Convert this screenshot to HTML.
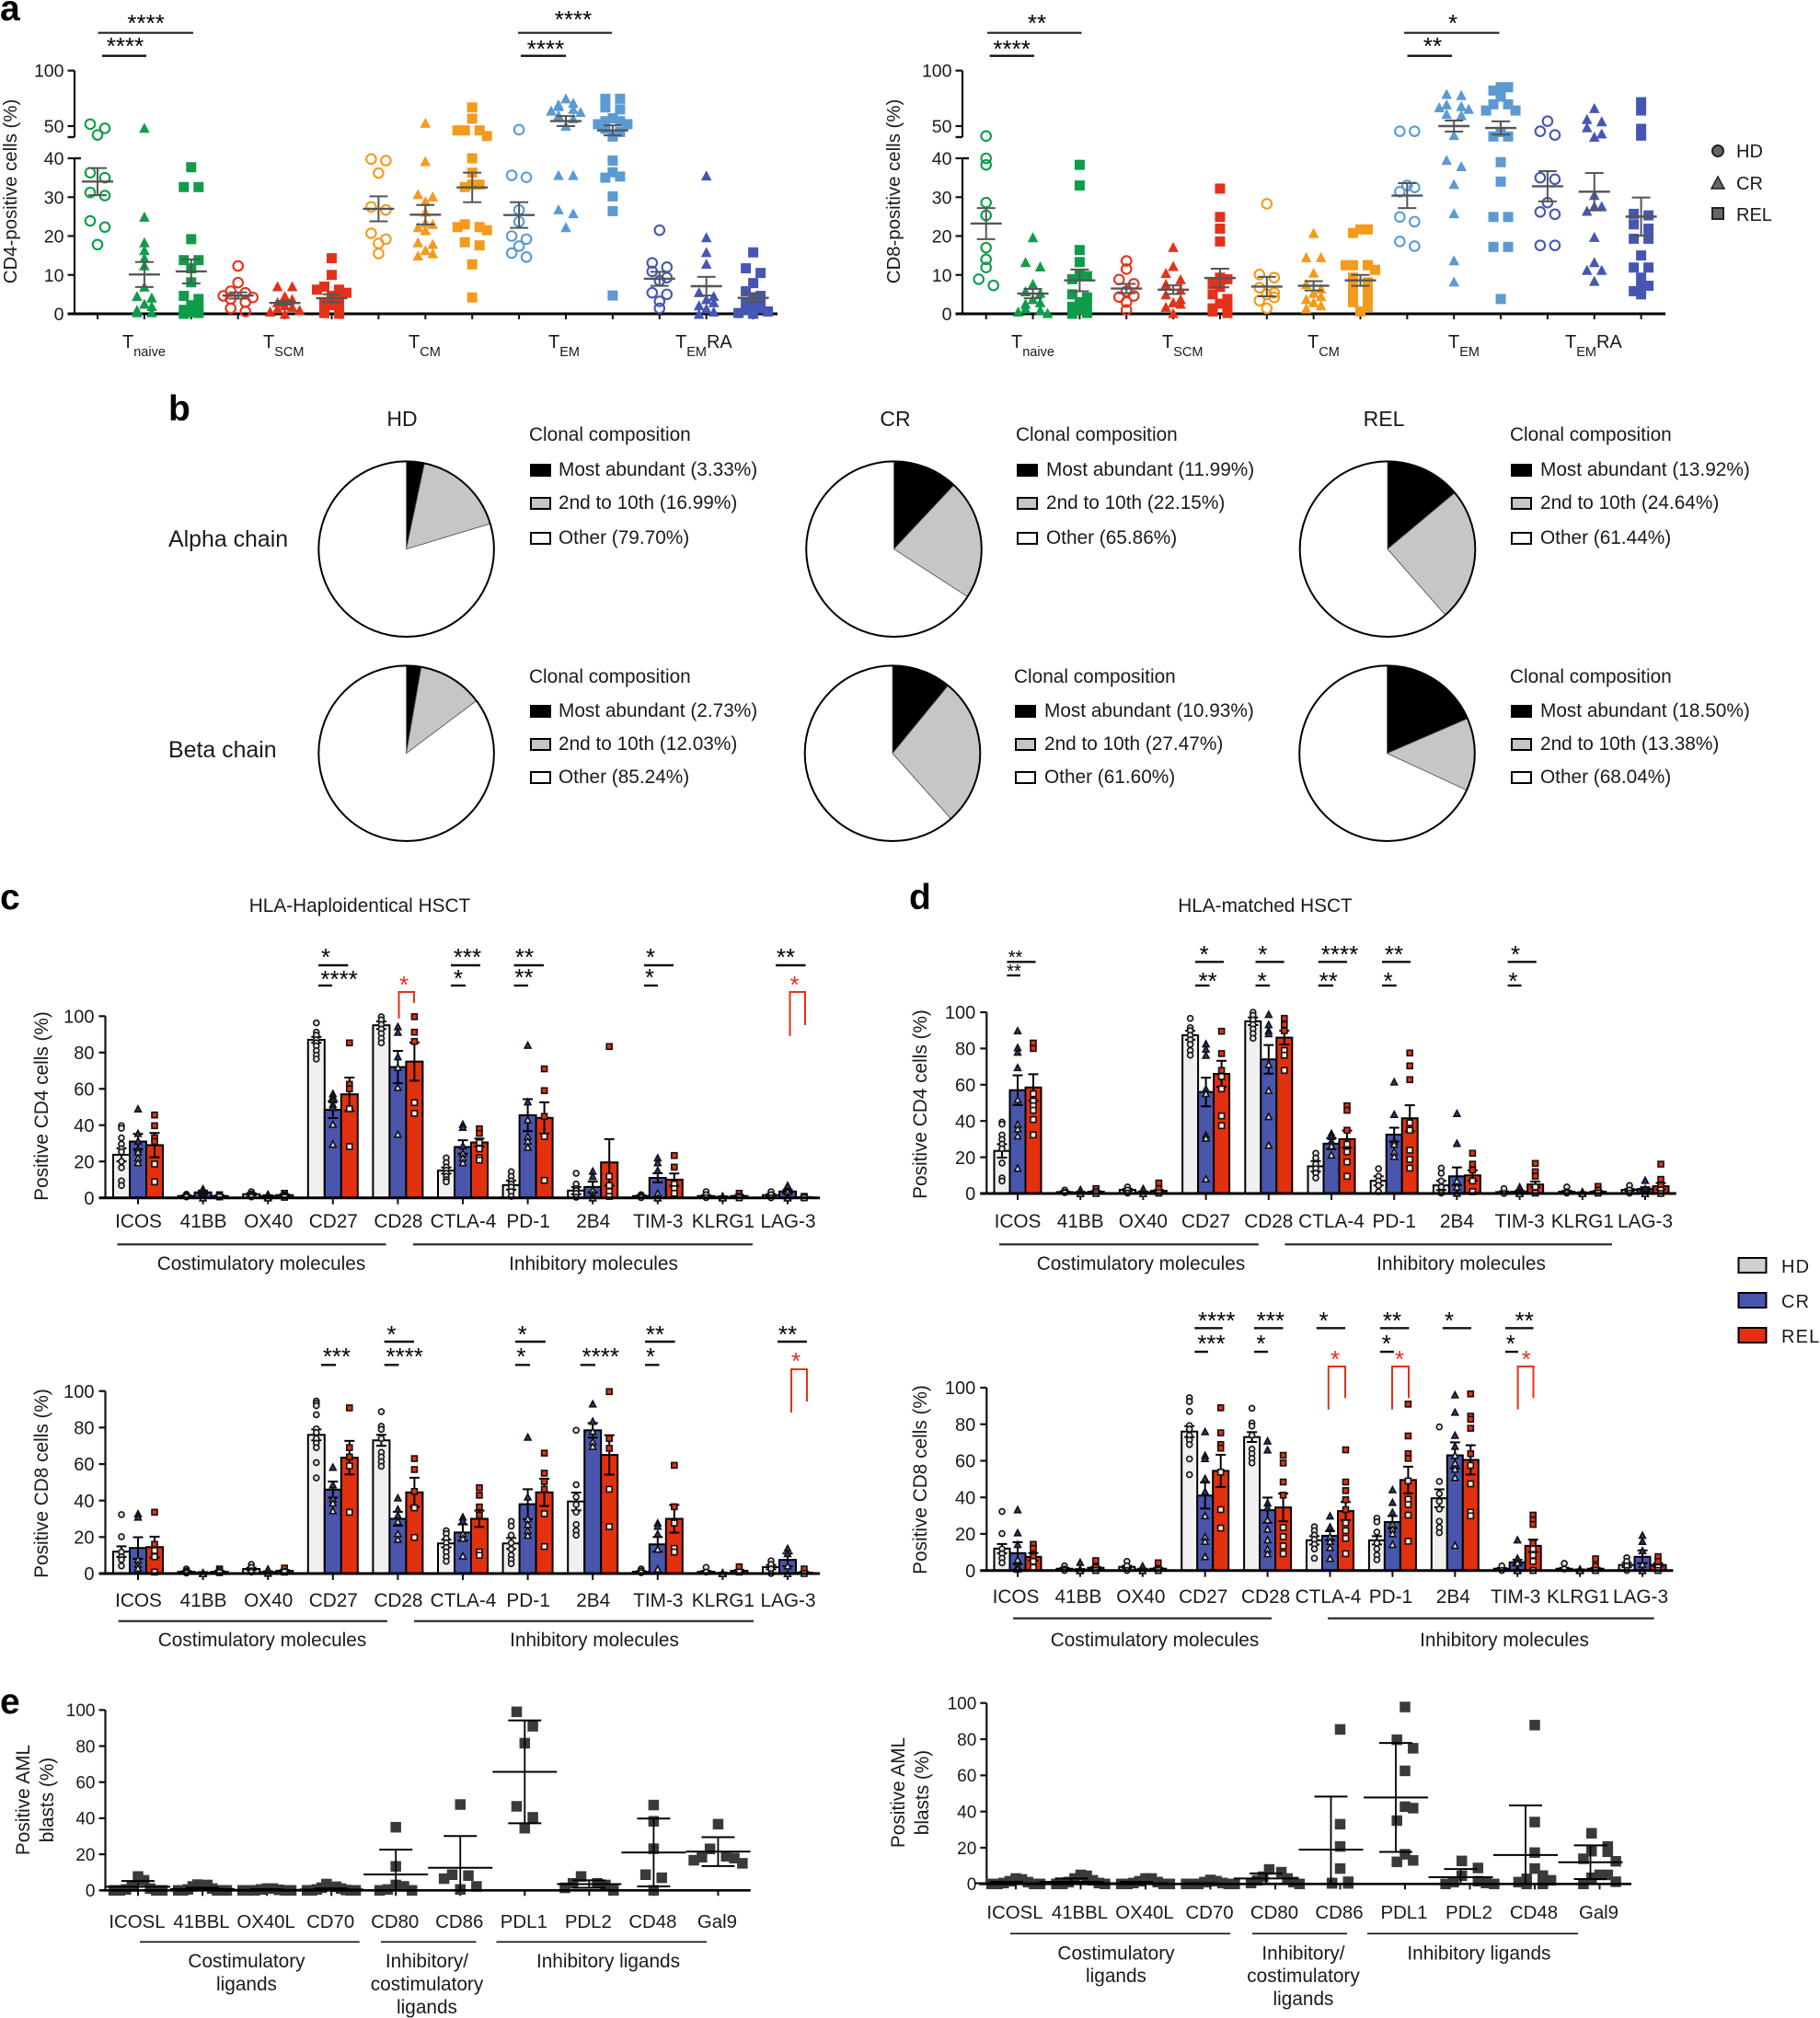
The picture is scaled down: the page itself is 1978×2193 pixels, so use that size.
<!DOCTYPE html>
<html lang="en">
<head>
<meta charset="utf-8">
<title>T cell subsets, clonal composition and checkpoint expression</title>
<style>
html,body{margin:0;padding:0;background:#fff;}
#figure{display:block;width:1978px;height:2193px;font-family:"Liberation Sans",sans-serif;fill:#1a1a1a;}
.letter{font-size:39px;font-weight:bold;fill:#000;}
.t20{font-size:20.8px;}
.t24{font-size:23px;}
.chain{font-size:24.9px;}
.star{font-size:26px;text-anchor:middle;fill:#000;transform:translateY(-2px);}
.star-s{font-size:20px;text-anchor:middle;fill:#000;transform:translateY(-1px);}
.star-r{font-size:26px;text-anchor:middle;fill:#e3321b;transform:translateY(-2px);}
.m{text-anchor:middle;}
.sig{stroke:#111;stroke-width:2.4;}
.bracket{stroke:#e3321b;stroke-width:2;fill:none;}
.glow{stroke:#222;stroke-width:2.2;}
.box{stroke:#000;stroke-width:2;}
</style>
</head>
<body>
<svg id="figure" xmlns="http://www.w3.org/2000/svg" width="1978" height="2193" viewBox="0 0 1978 2193">
<rect width="1978" height="2193" fill="#fff"/>

<text class="letter" x="0" y="22">a</text>
<text class="letter" x="183" y="457">b</text>
<text class="letter" x="0" y="988">c</text>
<text class="letter" x="988" y="988">d</text>
<text class="letter" x="0" y="1862">e</text>

<!-- panel a static -->
<g>
<text class="t20" transform="translate(18,208) rotate(-90)" text-anchor="middle" style="font-size:20.4px">CD4-positive cells (%)</text>
<text class="t20" transform="translate(978,208) rotate(-90)" text-anchor="middle" style="font-size:20.4px">CD8-positive cells (%)</text>
<text x="133" y="378" style="font-size:20px">T<tspan dy="9" style="font-size:14.5px">naive</tspan></text>
<text x="286" y="378" style="font-size:20px">T<tspan dy="9" style="font-size:14.5px">SCM</tspan></text>
<text x="444" y="378" style="font-size:20px">T<tspan dy="9" style="font-size:14.5px">CM</tspan></text>
<text x="596" y="378" style="font-size:20px">T<tspan dy="9" style="font-size:14.5px">EM</tspan></text>
<text x="734" y="378" style="font-size:20px">T<tspan dy="9" style="font-size:14.5px">EM</tspan><tspan dy="-9">RA</tspan></text>
<text x="1099" y="378" style="font-size:20px">T<tspan dy="9" style="font-size:14.5px">naive</tspan></text>
<text x="1263" y="378" style="font-size:20px">T<tspan dy="9" style="font-size:14.5px">SCM</tspan></text>
<text x="1421" y="378" style="font-size:20px">T<tspan dy="9" style="font-size:14.5px">CM</tspan></text>
<text x="1574" y="378" style="font-size:20px">T<tspan dy="9" style="font-size:14.5px">EM</tspan></text>
<text x="1701" y="378" style="font-size:20px">T<tspan dy="9" style="font-size:14.5px">EM</tspan><tspan dy="-9">RA</tspan></text>
</g>
<g>
<line class="glow" x1="106.5" x2="210" y1="35.7" y2="35.7"/>
<line class="sig" x1="111" x2="159" y1="60.7" y2="60.7"/>
<text class="star" x="158.6" y="36">****</text>
<text class="star" x="136" y="61">****</text>
<line class="glow" x1="563" x2="665" y1="35.7" y2="35.7"/>
<line class="sig" x1="566" x2="615" y1="60.7" y2="60.7"/>
<text class="star" x="623" y="32">****</text>
<text class="star" x="593" y="64">****</text>
<line class="glow" x1="1073" x2="1175.6" y1="35.7" y2="35.7"/>
<line class="sig" x1="1075.6" x2="1124" y1="60.7" y2="60.7"/>
<text class="star" x="1127" y="36">**</text>
<text class="star" x="1099.6" y="64">****</text>
<line class="glow" x1="1526" x2="1629.5" y1="35.7" y2="35.7"/>
<line class="sig" x1="1529.5" x2="1578" y1="60.7" y2="60.7"/>
<text class="star" x="1579" y="36">*</text>
<text class="star" x="1557" y="61">**</text>
</g>
<g>
<circle cx="1867" cy="164" r="6" fill="#666" stroke="#222" stroke-width="2"/>
<text x="1887" y="171" style="font-size:20px">HD</text>
<path d="M1867 192l7 13h-14z" fill="#666" stroke="#222" stroke-width="1.5"/>
<text x="1887" y="206" style="font-size:20px">CR</text>
<rect x="1861" y="226" width="12" height="12" fill="#666" stroke="#222" stroke-width="2"/>
<text x="1887" y="240" style="font-size:20px">REL</text>
</g>

<!-- panel b static -->
<g>
<text class="t24 m" x="437" y="463">HD</text>
<text class="t24 m" x="973" y="463">CR</text>
<text class="t24 m" x="1504" y="463">REL</text>
<text class="chain" x="183" y="594">Alpha chain</text>
<text class="chain" x="183" y="823">Beta chain</text>
</g>
<g>
<text class="t20" x="575" y="479">Clonal composition</text>
<rect class="box" x="577" y="505" width="21" height="12" fill="#000"/><text class="t20" x="607" y="517">Most abundant (3.33%)</text>
<rect class="box" x="577" y="541" width="21" height="12" fill="#c6c6c6"/><text class="t20" x="607" y="553">2nd to 10th (16.99%)</text>
<rect class="box" x="577" y="579" width="21" height="12" fill="#fff"/><text class="t20" x="607" y="591">Other (79.70%)</text>
</g>
<g>
<text class="t20" x="1104" y="479">Clonal composition</text>
<rect class="box" x="1106" y="505" width="21" height="12" fill="#000"/><text class="t20" x="1137" y="517">Most abundant (11.99%)</text>
<rect class="box" x="1106" y="541" width="21" height="12" fill="#c6c6c6"/><text class="t20" x="1137" y="553">2nd to 10th (22.15%)</text>
<rect class="box" x="1106" y="579" width="21" height="12" fill="#fff"/><text class="t20" x="1137" y="591">Other (65.86%)</text>
</g>
<g>
<text class="t20" x="1641" y="479">Clonal composition</text>
<rect class="box" x="1643" y="505" width="21" height="12" fill="#000"/><text class="t20" x="1674" y="517">Most abundant (13.92%)</text>
<rect class="box" x="1643" y="541" width="21" height="12" fill="#c6c6c6"/><text class="t20" x="1674" y="553">2nd to 10th (24.64%)</text>
<rect class="box" x="1643" y="579" width="21" height="12" fill="#fff"/><text class="t20" x="1674" y="591">Other (61.44%)</text>
</g>
<g>
<text class="t20" x="575" y="742">Clonal composition</text>
<rect class="box" x="577" y="767" width="21" height="12" fill="#000"/><text class="t20" x="607" y="779">Most abundant (2.73%)</text>
<rect class="box" x="577" y="803" width="21" height="12" fill="#c6c6c6"/><text class="t20" x="607" y="815">2nd to 10th (12.03%)</text>
<rect class="box" x="577" y="839" width="21" height="12" fill="#fff"/><text class="t20" x="607" y="851">Other (85.24%)</text>
</g>
<g>
<text class="t20" x="1102" y="742">Clonal composition</text>
<rect class="box" x="1104" y="767" width="21" height="12" fill="#000"/><text class="t20" x="1135" y="779">Most abundant (10.93%)</text>
<rect class="box" x="1104" y="803" width="21" height="12" fill="#c6c6c6"/><text class="t20" x="1135" y="815">2nd to 10th (27.47%)</text>
<rect class="box" x="1104" y="839" width="21" height="12" fill="#fff"/><text class="t20" x="1135" y="851">Other (61.60%)</text>
</g>
<g>
<text class="t20" x="1641" y="742">Clonal composition</text>
<rect class="box" x="1643" y="767" width="21" height="12" fill="#000"/><text class="t20" x="1674" y="779">Most abundant (18.50%)</text>
<rect class="box" x="1643" y="803" width="21" height="12" fill="#c6c6c6"/><text class="t20" x="1674" y="815">2nd to 10th (13.38%)</text>
<rect class="box" x="1643" y="839" width="21" height="12" fill="#fff"/><text class="t20" x="1674" y="851">Other (68.04%)</text>
</g>

<!-- panels c/d static -->
<text class="t20 m" x="391" y="991">HLA-Haploidentical HSCT</text>
<text class="t20 m" x="1375" y="991">HLA-matched HSCT</text>
<text class="t20 m" transform="translate(52,1202) rotate(-90)" style="font-size:20.8px">Positive CD4 cells (%)</text>
<text class="t20 m" transform="translate(52,1612) rotate(-90)" style="font-size:20.8px">Positive CD8 cells (%)</text>
<text class="t20 m" transform="translate(1007,1200) rotate(-90)" style="font-size:20.8px">Positive CD4 cells (%)</text>
<text class="t20 m" transform="translate(1007,1608) rotate(-90)" style="font-size:20.8px">Positive CD8 cells (%)</text>

<g>
<line class="glow" x1="127.4" x2="419.5" y1="1352.3" y2="1352.3"/>
<line class="glow" x1="449" x2="818" y1="1352.3" y2="1352.3"/>
<text class="t20 m" x="284" y="1380">Costimulatory molecules</text>
<text class="t20 m" x="645" y="1380">Inhibitory molecules</text>
<line class="glow" x1="128.6" x2="421" y1="1761.7" y2="1761.7"/>
<line class="glow" x1="450" x2="819" y1="1761.7" y2="1761.7"/>
<text class="t20 m" x="285" y="1789">Costimulatory molecules</text>
<text class="t20 m" x="646" y="1789">Inhibitory molecules</text>
<line class="glow" x1="1086" x2="1367.8" y1="1352.3" y2="1352.3"/>
<line class="glow" x1="1396.4" x2="1752" y1="1352.3" y2="1352.3"/>
<text class="t20 m" x="1240" y="1380">Costimulatory molecules</text>
<text class="t20 m" x="1588" y="1380">Inhibitory molecules</text>
<line class="glow" x1="1101" x2="1382" y1="1758.7" y2="1758.7"/>
<line class="glow" x1="1443" x2="1797.7" y1="1758.7" y2="1758.7"/>
<text class="t20 m" x="1255" y="1789">Costimulatory molecules</text>
<text class="t20 m" x="1635" y="1789">Inhibitory molecules</text>
</g>

<g>
<rect class="box" x="1889.5" y="1367" width="30" height="16" fill="#d0d0d0"/>
<text x="1936" y="1383" style="font-size:20px;letter-spacing:1.2px">HD</text>
<rect class="box" x="1889.5" y="1405" width="30" height="16" fill="#4a55ac"/>
<text x="1936" y="1421" style="font-size:20px;letter-spacing:1.2px">CR</text>
<rect class="box" x="1889.5" y="1443" width="30" height="16" fill="#e3300f"/>
<text x="1936" y="1459" style="font-size:20px;letter-spacing:1.2px">REL</text>
</g>

<g>
<line class="sig" x1="346" x2="378.4" y1="1049" y2="1049"/>
<line class="sig" x1="346" x2="361" y1="1071" y2="1071"/>
<text class="star" x="354" y="1051">*</text>
<text class="star" x="368.6" y="1075">****</text>
<line class="sig" x1="490" x2="522" y1="1049" y2="1049"/>
<line class="sig" x1="490" x2="506" y1="1071" y2="1071"/>
<text class="star" x="508" y="1051">***</text>
<text class="star" x="498" y="1074">*</text>
<line class="sig" x1="558.5" x2="591" y1="1049" y2="1049"/>
<line class="sig" x1="558.5" x2="574" y1="1071" y2="1071"/>
<text class="star" x="570" y="1051">**</text>
<text class="star" x="569.5" y="1073">**</text>
<line class="sig" x1="700" x2="732" y1="1049" y2="1049"/>
<line class="sig" x1="700" x2="715" y1="1071" y2="1071"/>
<text class="star" x="707" y="1051">*</text>
<text class="star" x="706" y="1073">*</text>
<line class="sig" x1="843" x2="875.6" y1="1049" y2="1049"/>
<text class="star" x="854" y="1051">**</text>
<path class="bracket" d="M433.5 1106.7V1078H450V1090"/>
<text class="star-r" x="439" y="1081">*</text>
<path class="bracket" d="M858.5 1125.7V1078H875V1114"/>
<text class="star-r" x="863.5" y="1081">*</text>
</g>

<g>
<line class="sig" x1="349" x2="365" y1="1483.3" y2="1483.3"/>
<text class="star" x="366" y="1485">***</text>
<line class="sig" x1="417.6" x2="450" y1="1458" y2="1458"/>
<line class="sig" x1="417.6" x2="433.5" y1="1483.3" y2="1483.3"/>
<text class="star" x="425.6" y="1461">*</text>
<text class="star" x="439.7" y="1485">****</text>
<line class="sig" x1="560" x2="592.8" y1="1458" y2="1458"/>
<line class="sig" x1="560" x2="576" y1="1483.3" y2="1483.3"/>
<text class="star" x="567.7" y="1461">*</text>
<text class="star" x="566.4" y="1485">*</text>
<line class="sig" x1="630.7" x2="647" y1="1483.3" y2="1483.3"/>
<text class="star" x="652.8" y="1485">****</text>
<line class="sig" x1="701" x2="733.6" y1="1458" y2="1458"/>
<line class="sig" x1="701" x2="716.5" y1="1483.3" y2="1483.3"/>
<text class="star" x="712" y="1461">**</text>
<text class="star" x="707" y="1485">*</text>
<line class="sig" x1="845" x2="877" y1="1458" y2="1458"/>
<text class="star" x="856" y="1461">**</text>
<path class="bracket" d="M860 1535V1488H877V1523"/>
<text class="star-r" x="865" y="1490">*</text>
</g>

<g>
<line class="sig" x1="1094.4" x2="1125.6" y1="1045.3" y2="1045.3"/>
<line class="sig" x1="1094.4" x2="1109" y1="1060" y2="1060"/>
<text class="star-s" x="1103.5" y="1048">**</text>
<text class="star-s" x="1102" y="1063">**</text>
<line class="sig" x1="1299" x2="1330" y1="1045.3" y2="1045.3"/>
<line class="sig" x1="1299" x2="1314.5" y1="1071" y2="1071"/>
<text class="star" x="1308.7" y="1048">*</text>
<text class="star" x="1312.6" y="1077">**</text>
<line class="sig" x1="1364.5" x2="1395.7" y1="1045.3" y2="1045.3"/>
<line class="sig" x1="1364.5" x2="1380" y1="1071" y2="1071"/>
<text class="star" x="1372.3" y="1048">*</text>
<text class="star" x="1371.7" y="1077">*</text>
<line class="sig" x1="1432.7" x2="1464" y1="1045.3" y2="1045.3"/>
<line class="sig" x1="1432.7" x2="1449" y1="1071" y2="1071"/>
<text class="star" x="1456" y="1048">****</text>
<text class="star" x="1443.8" y="1077">**</text>
<line class="sig" x1="1502" x2="1533" y1="1045.3" y2="1045.3"/>
<line class="sig" x1="1502" x2="1517.8" y1="1071" y2="1071"/>
<text class="star" x="1515" y="1048">**</text>
<text class="star" x="1508.7" y="1077">*</text>
<line class="sig" x1="1638.6" x2="1669.8" y1="1045.3" y2="1045.3"/>
<line class="sig" x1="1638.6" x2="1653.5" y1="1071" y2="1071"/>
<text class="star" x="1647" y="1048">*</text>
<text class="star" x="1644.4" y="1077">*</text>
</g>

<g>
<line class="sig" x1="1298.3" x2="1328.8" y1="1443.3" y2="1443.3"/>
<line class="sig" x1="1298.3" x2="1313" y1="1469" y2="1469"/>
<text class="star" x="1322.3" y="1446">****</text>
<text class="star" x="1316.5" y="1471">***</text>
<line class="sig" x1="1363" x2="1394.4" y1="1443.3" y2="1443.3"/>
<line class="sig" x1="1363" x2="1378" y1="1469" y2="1469"/>
<text class="star" x="1380.8" y="1446">***</text>
<text class="star" x="1370.4" y="1471">*</text>
<line class="sig" x1="1430.8" x2="1462" y1="1443.3" y2="1443.3"/>
<text class="star" x="1438.6" y="1446">*</text>
<path class="bracket" d="M1443.8 1531.7V1485H1462V1519.3"/>
<text class="star-r" x="1451" y="1488">*</text>
<line class="sig" x1="1500" x2="1531.4" y1="1443.3" y2="1443.3"/>
<line class="sig" x1="1500" x2="1515" y1="1469" y2="1469"/>
<text class="star" x="1513" y="1446">**</text>
<text class="star" x="1506.8" y="1471">*</text>
<path class="bracket" d="M1513 1531.7V1485H1531V1519.3"/>
<text class="star-r" x="1521" y="1488">*</text>
<line class="sig" x1="1567.8" x2="1599" y1="1443.3" y2="1443.3"/>
<text class="star" x="1575" y="1446">*</text>
<line class="sig" x1="1636" x2="1666.5" y1="1443.3" y2="1443.3"/>
<line class="sig" x1="1636" x2="1650" y1="1469" y2="1469"/>
<text class="star" x="1656.8" y="1446">**</text>
<text class="star" x="1641.8" y="1471">*</text>
<path class="bracket" d="M1649.6 1531.7V1485H1666.5V1519.3"/>
<text class="star-r" x="1658.7" y="1488">*</text>
</g>

<!-- panel e static -->
<g>
<text class="m" transform="translate(32,1956) rotate(-90)" style="font-size:20.8px">Positive AML</text>
<text class="m" transform="translate(58,1956) rotate(-90)" style="font-size:20.8px">blasts (%)</text>
<text class="m" transform="translate(983,1948) rotate(-90)" style="font-size:20.8px">Positive AML</text>
<text class="m" transform="translate(1009,1948) rotate(-90)" style="font-size:20.8px">blasts (%)</text>
<line stroke="#111" stroke-width="1.6" x1="152" x2="390.7" y1="2110.3" y2="2110.3"/>
<line stroke="#111" stroke-width="1.6" x1="414" x2="517.5" y1="2110.3" y2="2110.3"/>
<line stroke="#111" stroke-width="1.6" x1="539.5" x2="768" y1="2110.3" y2="2110.3"/>
<text class="t20 m" x="268" y="2138">Costimulatory<tspan x="268" y="2163">ligands</tspan></text>
<text class="t20 m" x="464" y="2138">Inhibitory/<tspan x="464" y="2163">costimulatory</tspan><tspan x="464" y="2188">ligands</tspan></text>
<text class="t20 m" x="661" y="2138">Inhibitory ligands</text>
<line stroke="#111" stroke-width="1.6" x1="1098" x2="1337" y1="2101.3" y2="2101.3"/>
<line stroke="#111" stroke-width="1.6" x1="1361" x2="1464" y1="2101.3" y2="2101.3"/>
<line stroke="#111" stroke-width="1.6" x1="1486" x2="1715" y1="2101.3" y2="2101.3"/>
<text class="t20 m" x="1213" y="2129.3">Costimulatory<tspan x="1213" y="2154">ligands</tspan></text>
<text class="t20 m" x="1416.5" y="2129.3">Inhibitory/<tspan x="1416.5" y="2154">costimulatory</tspan><tspan x="1416.5" y="2179">ligands</tspan></text>
<text class="t20 m" x="1607.4" y="2129.3">Inhibitory ligands</text>
</g>

<g id="plots"></g>
</svg>

<script>
// ---------- panel a data ----------
const aBreakTicksLow = [0, 10, 20, 30, 40];
const aBreakTicksHigh = [50, 100];
const aCd4Means = [34, 10.1, 10.9, 4.7, 2.8, 4, 27, 25.5, 32.5, 25.4, 54.5, 46.1, 9, 7.1, 4.1];
const aCd4Sem = [3.5, 3.2, 3.1, 0.8, 0.45, 1, 3.2, 2.5, 3.8, 3.3, 4.5, 4.5, 1.8, 2.4, 1.2];
const aCd4Points = [
 [51.7,48,42,36.3,35,31.2,30.4,23.9,22.3,17.8],
 [48.4,25,18.4,16.4,14.4,12.5,7,4.6,4.2,2.6,2,1,0.4,0.4],
 [37.7,32.6,32.6,19.2,13.8,13.8,11.7,8.1,4.6,3.8,2.2,1.8,1,0.2,0,0.4],
 [12.3,8,5.8,5.4,4.6,4.2,3.8,3,1.4,0.6],
 [7.1,7.1,4.6,3.8,3,2.2,1.8,1.4,1,0.6,0],
 [14.3,10,7,6.2,6.2,5.4,4.6,3.8,3,2.2,1.4,0.6,0.2,0],
 [39.8,39.4,36.2,27.5,26.7,20.7,19.2,18.1,15.5],
 [53,39.3,30.8,30.2,29,26.3,23.5,23.1,22.3,21.5,18.4,18,16.4,15.6,15],
 [66.8,56.6,46.1,46.1,46.1,41,40,36.3,33.2,33.2,32.6,23,22.3,22.3,21.5,18.4,17.6,12.7,4.2],
 [46.7,35.6,35.1,26.7,23.7,20,19.2,17.4,15.6,14.6],
 [75,71,69.6,68,65.5,64,62.7,60,57,50.3,35.7,35.7,26.9,25.9,22.3],
 [74.6,74.6,66.8,65,57,54.4,54.4,51.7,51.7,47.5,44.7,40.6,39.4,36.4,35.3,35,30.2,26.4,4.7],
 [21.5,13.1,12,10.9,9.3,8.5,5.4,5,3.2,1.4],
 [35.6,19.7,15.9,12.9,5.6,4.6,3.8,3,2.2,1.4,0.6,0],
 [15.8,11.7,10.5,7.9,5.8,4.6,3.8,3,2.6,1.8,1.4,1,0.6,0.2,0]
];
const aCd8Means = [23.2, 5.2, 8.6, 6.5, 6.2, 9.2, 7, 7.2, 8.6, 30.4, 50, 48.3, 32.8, 31.4, 25];
const aCd8Sem = [4, 1.2, 2.8, 1.2, 1.1, 2.4, 2.5, 1.2, 1.4, 3.2, 5, 6, 3.9, 4.8, 4.9];
const aCd8Points = [
 [41,40,38.3,28.6,25.3,17,14,11.9,8.9,7.3],
 [19.7,13.3,12.2,7.7,5.8,5.4,3.8,3,2.6,1.4,1,0.6,0.2],
 [38.3,33,16.4,13.3,10,9.7,8.9,5,4.2,3,2.6,1.8,1,0.2,0],
 [13.6,11.5,8.8,7.7,5.8,4.6,4.3,3,1],
 [17.2,12.3,10.5,8.9,7.7,6.2,5,3.8,3,2.6,1.8,0.2],
 [32.2,24.9,21.9,18.6,9.3,8.9,7.7,6.9,5,3.8,2.6,1.8,1.4,0.6,0.2],
 [28.3,10.1,9.3,6.7,5.4,5,4.2,3.4,1.4],
 [20.8,14.6,14.6,10.6,7.7,6.5,5.4,4.6,3.8,3,2.2,1.4],
 [21.7,21.7,20.8,12.5,12.5,12.5,11.3,9.3,8.1,6.9,5.8,5,3.8,3,1.8,0.6],
 [45.3,45.3,33,32.5,31.4,24.9,23.7,18.6,17.4],
 [79,78,69.6,68,67,65.5,61,60,42,39.6,38,33.4,25.9,13.8,8.3],
 [85,85,82,76.5,69.6,69.6,64,64,44.7,40.6,40.6,39,34,24.9,24.9,17.2,17.2,3.8],
 [54.4,45.3,42,35,34.6,28.6,26.2,25.6,17.6,17.6],
 [66.3,56.4,54.4,49,43.4,40.5,30.6,27.7,27.7,26.5,19.8,13.3,11.3,11.3,8.5],
 [71.5,64,47.5,41.4,25.7,25.3,23,21.9,19.3,19.3,15,11.9,11.9,9.3,7.2,7.2,5.8,5]
];

// ---------- panel b data ----------
const pieHdAlpha = [3.33, 16.99, 79.70];
const pieCrAlpha = [11.99, 22.15, 65.86];
const pieRelAlpha = [13.92, 24.64, 61.44];
const pieHdBeta = [2.73, 12.03, 85.24];
const pieCrBeta = [10.93, 27.47, 61.60];
const pieRelBeta = [18.50, 13.38, 68.04];

// ---------- panels c / d data ----------
const barCategories = ['ICOS','41BB','OX40','CD27','CD28','CTLA-4','PD-1','2B4','TIM-3','KLRG1','LAG-3'];
const barTicks = [0, 20, 40, 60, 80, 100];

const cCd4Means = [[23.7,31,29],[1,3,1],[2,1,1.5],[87,48.5,57],[95,72,75],[15,28,30.5],[7,45.5,44],[4,6,19.5],[1,11,10],[1,0.5,1],[1.5,3.5,0.3]];
const cCd4Sem = [[3.6,4.2,6.7],[0.4,1,0.4],[0.6,0.4,0.5],[1.6,4.6,9.2],[2.1,8.9,10.5],[1.7,3.7,2.1],[2.5,8.8,8.6],[2,2.9,12.8],[0.4,2.5,3.4],[0.5,0.3,0.5],[0.6,1,0.2]];
const cCd4Points = [
 [[39.7,38.3,33,29.6,27,25.3,20,16.6,9.3,6.8],[49,35.5,31.3,27,25.3,22,19.4],[45.6,39.7,33,31,18.6,8.8]],
 [[2,1.5,1,0.5],[5,3,2.5,1.5,0],[1.7,1,0.5]],
 [[3.4,2.2,1.5,1,0.5],[2,0.8,0],[2.5,1.5,1,0.3]],
 [[96.3,91.2,89.5,87,85.3,83.6,81,78.5,76.4],[57.4,55.7,54,51.5,49.8,40.5,29.6],[85.3,62.5,60,49,28.2]],
 [[99.7,98,95.4,92.9,90.4,87.8,85.3],[94.3,91.2,77.7,71.8,60.8,35],[99.7,91.2,86.1,52.4,46.5]],
 [[22,19.4,16.9,15.2,13.5,11.8,10,8.8],[40.5,38.9,28.7,24.5,22,19.4],[38,35.5,30.4,27,22,20.8]],
 [[14.4,11.8,9.3,7.6,5.9,3.4,0.8],[84,52.9,43,33.8,31.3,27.9],[71,59,44.8,33.8,9.6]],
 [[13.5,7.6,5,4,2.5,0.3],[14.7,11.8,4.2,1.7,0],[83.3,11.8,6.8,3.4,0.8]],
 [[1.7,1.2,0.8,0.1],[22,19.4,15.2,2.5,0],[23.3,16.9,7.6,5,2.5]],
 [[3.4,1.7,0.1],[1,0.5,0],[2.5,0.8,0]],
 [[3.4,1.7,0],[6.8,3.4,1,0],[0.8,0.3,0]]
];

const cCd8Means = [[12,14,14.5],[1,0.5,1],[2.5,0.8,1.5],[76,46,63.5],[73,30,44.5],[16.5,22.5,30],[16.5,38,44.5],[39.5,78.5,65],[1,16,30],[1,0.3,1.5],[3.5,7.5,0.5]];
const cCd8Sem = [[2.9,5.9,5.7],[0.4,0.3,0.5],[0.7,0.4,0.5],[3,4.4,9.2],[3,3.8,8],[2.1,4.4,4.5],[3,8.2,7.5],[4.9,4,10.8],[0.4,4,7.6],[0.5,0.2,0.5],[1.2,3.5,0.4]];
const cCd8Points = [
 [[32.3,20.2,11.8,9.2,7.6,4.2],[32.8,31,7.6,5,3],[33.6,16,12.6,9.2,0.8]],
 [[2.5,1.5,1,0.3],[0.5,0],[2.5,1.5,0.5]],
 [[5,3.4,1.5,0.8],[2.5,0.2],[3,1,0.8]],
 [[94.5,93.3,92,87,79.3,77.3,74,71.4,69,60.8,52.4],[58.3,48.7,41,38.7,34.5],[90.8,69,63.9,59,33.6]],
 [[88.7,80.7,79,74,66.4,63.9,61.3,58.8],[41.5,35.3,32,28.6,21.8,18.8],[63,57,45,36,19.8]],
 [[23.5,21.8,19.3,16.8,14.3,11.8,9.2,6.7],[31,29,21.8,19.3,9.7],[47,42.9,36.5,32,11.8,10]],
 [[28.6,26,21,16.8,13.4,10,7.6,5.4],[74.8,42,30,26.9,23.5,21],[66,55,50.4,46.2,32.8,14.8]],
 [[78.5,48.7,42,37.8,33.6,26.9,23.5,21],[93,83.5,78,72.3,69.7],[99.7,74,68.6,46.2,25.7]],
 [[2.5,1.5,0.5],[27.7,26,21.8,13.4,2.5],[59.3,36.6,27.7,13.8,11.8]],
 [[3.4,0.8],[0.5,0],[3.7,0.8]],
 [[7,5,2.5,0],[13.8,11,4.2,0],[2.5,0]]
];

const dCd4Means = [[23.5,57,58.5],[0.8,0.5,1],[2,0.7,1.5],[87.3,56,66],[95,74,86],[15,27.5,30],[7,32.5,41.5],[4.5,9.5,10],[0.8,1,5],[1,0.4,1],[2,2.5,4]];
const dCd4Sem = [[3.7,8.2,7.3],[0.4,0.4,0.4],[0.6,0.4,0.5],[2.5,7.9,7.2],[2.1,7.9,3.8],[2.9,3,4.7],[2.5,3.8,7.2],[2.6,4.9,2.8],[0.4,0.5,1.6],[0.5,0.3,0.5],[0.6,1,1.8]];
const dCd4Points = [
 [[39.4,38.2,32.3,29.8,27.2,24.7,16.8,8.6,6.9],[89.8,80.5,78,69.5,51.8,38.2,35.7,31.8,14],[83,80,55,51,48.4,45.9,40.8,32.3]],
 [[1.9,0.8,0.5],[2.2,0],[2.7,1,0]],
 [[3.6,1.9,0.2],[2.7,0],[5.8,2.7,0.2]],
 [[96.6,91.5,89.8,87.3,84.8,82.2,78.9,76.3],[82.6,79.7,76.3,57.7,55.2,32.3,30.6,8.1],[89.5,77.2,67.9,64.5,57.7,42.8,37.4]],
 [[100,98.3,95.8,93.2,90.7,88.2,85.6],[98.8,93.2,89.8,88.2,71.2,56.9,42.5,26.7],[96.6,93.2,89.8,78.9,76.3,67.9]],
 [[22.2,19.6,16.2,13.7,11.2,8.6],[33.2,31.5,28.9,26.4,21.3],[48.4,45.9,34.9,27.2,23,17.4,9.5]],
 [[13.7,9.5,6.9,4.4,1],[61.6,43.7,28.9,27.2,23,20.5],[77.5,70.4,62.8,39,34.9,23.9,18.8,14]],
 [[14,11.2,6.9,3.6,0.2],[44.2,27.7,6.9,3.6,0.2],[22.2,16.2,12.9,6.9,1]],
 [[2.7,0],[3.6,1,0],[16.6,12,9.5,3.6,0.2]],
 [[3.6,1,0.2],[1,0],[3.9,1.9,0.2]],
 [[4.4,1.9,0.2],[7.3,2.7,0],[16.2,7.8,4.4,1.9,0]]
];

const dCd8Means = [[12,9.5,7.5],[1,0.5,1.5],[2,0.6,1],[76,41,54.5],[73,33,34.5],[16.5,19,32.5],[16.5,26.5,49.5],[39.5,63,60.5],[1,4.5,13.5],[1,0.4,1],[3,7.5,3]];
const dCd8Sem = [[2.5,6,2.1],[0.4,0.3,0.5],[0.6,0.4,0.5],[3,7.1,8.8],[2.7,6.9,7.6],[2.3,2.5,5],[2.3,3.3,7.3],[4.9,7.1,8],[0.4,1.4,3.4],[0.5,0.2,0.5],[1.2,3.5,1]];
const dCd8Points = [
 [[32.3,20.2,11.8,9.2,6.7,4.2],[33.3,20.7,14.3,5.9,2.5,0.8],[14.3,12.1,7.6,5,1.7]],
 [[2.5,0.8,0],[4.5,0.8,0],[5.4,1.7,0]],
 [[5,2.5,0],[2.5,0],[4.2,0.8,0]],
 [[94.5,92.4,87,79.3,77.3,74,71.4,68.9,61,52.4],[76,63,61.3,50.4,43.2,30,18.5,16,7.6],[89,75.3,68.9,66.9,53.8,33.3,23.2]],
 [[88.7,80.7,79,74,66.4,63.9,61.3,58.8],[70.9,66,37,34.5,27.7,22.7,16.8,11.8,9.2],[63,58.8,48.4,41.2,23.5,18.5,13.4,9.2]],
 [[23.9,21.8,19.3,17,14.3,11.8,6.7],[29.9,23.9,18.5,16,12.6,6.7],[66,48.4,43.7,38.7,33.3,26,21.8,17.6,9.2]],
 [[28.6,26.6,21,15,11.8,8.4,5.9],[44.2,37.3,31.9,25.2,22.7,20.2,14.3],[91,73.6,63.9,61.3,49,39,36.1,30.3,16]],
 [[78.5,48.7,42,37.8,33.6,26.9,23.5,20.7],[96.1,86.6,74,68,63,58.8,55.5,50.9,13.8],[96.6,84.4,82.7,77.8,63.9,57.5,47.4,31.9,29.9]],
 [[2.5,0],[16.8,6.7,4.2,0.8,0],[30.3,27.7,25.2,15,11.8,8.4,5,0]],
 [[3.9,0.8],[0.8,0],[6.4,2.5,0]],
 [[7,5,2.5,0],[19.3,16,10.9,3.4,0],[7.6,5,1.7,0]]
];

// ---------- panel e data ----------
const ligandCategories = ['ICOSL','41BBL','OX40L','CD70','CD80','CD86','PDL1','PDL2','CD48','Gal9'];
const ligandTicks = [0, 20, 40, 60, 80, 100];
const eLeftMeans = [2, 0.7, 0.3, 0.5, 8.8, 12.5, 65.7, 3.5, 21, 21.5];
const eLeftSd = [3.2, 0.8, 0.4, 0.6, 13.8, 17.6, 28.5, 2.1, 18.8, 8];
const eLeftPoints = [
 [7.7,5.6,2.2,1,0.5,0,0,0,0],
 [3.2,3,2.2,1,0.5,0,0,0,0,0],
 [1,1,0.5,0.3,0,0,0,0,0],
 [3.5,2,1.5,1,0.5,0.2,0,0,0,0],
 [35,13.3,3,2.2,0.5,0,0],
 [47.6,8.7,8.2,6.5,2.2,0.5],
 [99,91,81.6,46.6,40.5,34.5],
 [7.7,3.9,3.9,3,1.4,0],
 [47.3,38.3,23.1,8.7,7,0],
 [36.7,23,18.9,18.4,17.9,16.7,15]
];
const eRightMeans = [0.4, 1.2, 0.4, 0, 3, 19, 47.8, 3.7, 16, 12];
const eRightSd = [0.8, 1.8, 0.8, 0.4, 2.8, 29.3, 30.1, 4.5, 27.4, 9.3];
const eRightPoints = [
 [3,2.5,1.5,1,0.5,0,0,0,0],
 [5,4.5,3,2,1,0.5,0,0,0],
 [3,3,1.5,1,0.5,0,0,0,0],
 [2.2,1.5,1,0.5,0,0,0,0,0],
 [8,6.5,4,3,2,1,0.5,0],
 [85.4,33,20.7,8.5,1.2,0.5,0.3,0.3],
 [97.8,79.7,75,62.5,42.7,41.9,35,16.4,13,12.2],
 [12.7,8.8,4.5,1.5,1,0.5,0,0],
 [87.8,34.2,17.3,8.5,4.6,2.8,2,1,0,0],
 [28,20.7,18.1,17.8,13.9,12.5,5,5,3.4,1.2,0]
];

// ---------- colours ----------
const swarmColors = ['#0e9c4b','#0e9c4b','#0e9c4b','#e4321a','#e4321a','#e4321a','#f49a1c','#f49a1c','#f49a1c','#5b9ad3','#5b9ad3','#5b9ad3','#4557b2','#4557b2','#4557b2'];
const barColors = ['#f0f0f0','#4a55ac','#e3300f'];
const pieColors = ['#000000','#c6c6c6','#ffffff'];
const seriesNames = ['hd','cr','rel'];

// ---------- helpers ----------
const NS = 'http://www.w3.org/2000/svg';
const plots = document.getElementById('plots');
function el(tag, attrs, parent) {
  const e = document.createElementNS(NS, tag);
  for (const k in attrs) e.setAttribute(k, attrs[k]);
  parent.appendChild(e);
  return e;
}
function trianglePath(x, y, w, h) {
  return 'M' + x + ' ' + (y - h / 2) + 'L' + (x + w / 2) + ' ' + (y + h / 2) + 'L' + (x - w / 2) + ' ' + (y + h / 2) + 'Z';
}
function markerShape(shape, x, y, size, fill, stroke, sw, parent) {
  if (shape === 0) return el('circle', {cx: x, cy: y, r: size / 2, fill: fill, stroke: stroke, 'stroke-width': sw}, parent);
  if (shape === 1) return el('path', {d: trianglePath(x, y, size * 1.05, size), fill: fill, stroke: stroke, 'stroke-width': sw}, parent);
  return el('rect', {x: x - size / 2, y: y - size / 2, width: size, height: size, fill: fill, stroke: stroke, 'stroke-width': sw}, parent);
}
// binned symmetric scatter: values in one vertical bin spread evenly around the centre
function swarmOffsets(ys, step, binH, maxCol) {
  const order = ys.map(function (y, i) { return i; }).sort(function (a, b) { return ys[a] - ys[b]; });
  const out = [];
  let start = 0;
  while (start < order.length) {
    let end = start;
    while (end + 1 < order.length && ys[order[end + 1]] - ys[order[start]] <= binH) end++;
    const n = end - start + 1;
    const cols = [];
    for (let k = 0; k < n; k++) {
      if (n % 2) cols.push(k === 0 ? 0 : Math.ceil(k / 2) * (k % 2 ? 1 : -1));
      else cols.push((Math.floor(k / 2) + 1) * (k % 2 ? 1 : -1));
    }
    const widest = Math.max.apply(null, cols.map(Math.abs));
    const shrink = widest > maxCol ? maxCol / widest : 1;
    for (let k = 0; k < n; k++) out[order[start + k]] = cols[k] * step * shrink;
    start = end + 1;
  }
  return out;
}
function drawYTick(g, value, axisX, y, len, textGap, fontSize) {
  const t = el('line', {x1: axisX - len, x2: axisX, y1: y, y2: y, stroke: '#111', 'stroke-width': 2.2}, g);
  
  
  const lab = el('text', {x: axisX - len - textGap, y: y + fontSize * 0.36, 'text-anchor': 'end', style: 'font-size:' + fontSize + 'px'}, g);
  
  
  lab.textContent = value;
}

// ---------- panel a ----------
function breakY(v) {
  return v <= 40 ? 341 - v * 4.225 : 137 + (50 - v) * 1.206;
}
function drawSwarmPanel(name, axisX, x0, dx, xEnd, means, sem, points) {
  const g = el('g', {}, plots);
  
  
  const xOf = function (i) { return x0 + i * dx; };
  const up = el('line', {x1: axisX, x2: axisX, y1: breakY(100), y2: 149, stroke: '#111', 'stroke-width': 2.2}, g);
  
  
  const low = el('line', {x1: axisX, x2: axisX, y1: 172, y2: 341, stroke: '#111', 'stroke-width': 2.2}, g);
  
  
  const capA = el('line', {x1: axisX - 7.5, x2: axisX, y1: 149, y2: 149, stroke: '#111', 'stroke-width': 2.4}, g);
  
  
  const capB = el('line', {x1: axisX, x2: axisX + 7, y1: 172, y2: 172, stroke: '#111', 'stroke-width': 2.4}, g);
  
  
  aBreakTicksLow.concat(aBreakTicksHigh).forEach(function (v) {
    drawYTick(g, v, axisX, breakY(v), 7.5, 4, 19.5);
  });
  const base = el('line', {x1: axisX - 7.5, x2: xEnd, y1: 341, y2: 341, stroke: '#000', 'stroke-width': 3}, g);
  
  
  points.forEach(function (vals, i) {
    const cx = xOf(i);
    const tick = el('line', {x1: cx, x2: cx, y1: 341, y2: 347, stroke: '#111', 'stroke-width': 2}, g);
    
    
    const ys = vals.map(breakY);
    const offs = swarmOffsets(ys, 8, 7, 2.5);
    const shape = i % 3;
    vals.forEach(function (v, k) {
      const m = shape === 0
        ? markerShape(0, cx + offs[k], ys[k], 10.5, 'none', swarmColors[i], 2.1, g)
        : markerShape(shape, cx + offs[k], ys[k], 11, swarmColors[i], 'none', 0, g);
      
      
    });
    const ym = breakY(means[i]);
    const yhi = breakY(means[i] + sem[i]);
    const ylo = breakY(means[i] - sem[i]);
    const stem = el('line', {x1: cx, x2: cx, y1: yhi, y2: ylo, stroke: '#555', 'stroke-width': 2}, g);
    
    
    const capHi = el('line', {x1: cx - 10, x2: cx + 10, y1: yhi, y2: yhi, stroke: '#555', 'stroke-width': 2}, g);
    
    
    const capLo = el('line', {x1: cx - 10, x2: cx + 10, y1: ylo, y2: ylo, stroke: '#555', 'stroke-width': 2}, g);
    
    
    const mean = el('line', {x1: cx - 17, x2: cx + 17, y1: ym, y2: ym, stroke: '#555', 'stroke-width': 2.4}, g);
    
    
  });
}

// ---------- panel b ----------
function drawPie(name, values, cx, cy, r) {
  const g = el('g', {}, plots);
  
  
  const total = values.reduce(function (a, b) { return a + b; }, 0);
  let a0 = -Math.PI / 2;
  values.forEach(function (v, i) {
    const a1 = a0 + v / total * 2 * Math.PI;
    const large = a1 - a0 > Math.PI ? 1 : 0;
    const d = 'M' + cx + ' ' + cy + 'L' + (cx + r * Math.cos(a0)) + ' ' + (cy + r * Math.sin(a0)) +
      'A' + r + ' ' + r + ' 0 ' + large + ' 1 ' + (cx + r * Math.cos(a1)) + ' ' + (cy + r * Math.sin(a1)) + 'Z';
    const s = el('path', {d: d, fill: pieColors[i], stroke: '#555', 'stroke-width': 0.8}, g);
    
    
    a0 = a1;
  });
  const ring = el('circle', {cx: cx, cy: cy, r: r, fill: 'none', stroke: '#000', 'stroke-width': 2}, g);
  
  
}

// ---------- panels c / d ----------
function drawBarPanel(name, axisX, x0, dx, bw, xEnd, y0, y100, labelShift, labelY, means, sem, points) {
  const g = el('g', {}, plots);
  
  
  const yOf = function (v) { return y0 - v / 100 * (y0 - y100); };
  const xOf = function (i, j) { return x0 + i * dx + (j - 1) * bw; };
  const axis = el('line', {x1: axisX, x2: axisX, y1: y100, y2: y0, stroke: '#111', 'stroke-width': 2.2}, g);
  
  
  barTicks.forEach(function (v) {
    drawYTick(g, v, axisX, yOf(v), 7, 5, 20);
  });
  barCategories.forEach(function (cat, i) {
    const cx = xOf(i, 1);
    const tick = el('line', {x1: cx, x2: cx, y1: y0, y2: y0 + 7, stroke: '#111', 'stroke-width': 2}, g);
    
    
    const lab = el('text', {x: cx + labelShift, y: labelY, 'text-anchor': 'middle', style: 'font-size:20.8px'}, g);
    
    
    lab.textContent = cat;
    means[i].forEach(function (m, j) {
      const x = xOf(i, j);
      const bar = el('rect', {x: x - bw / 2, y: yOf(m), width: bw, height: y0 - yOf(m), fill: barColors[j], stroke: '#000', 'stroke-width': 2}, g);
      
      
    });
    means[i].forEach(function (m, j) {
      const x = xOf(i, j);
      const hi = yOf(m + sem[i][j]);
      const lo = yOf(Math.max(0, m - sem[i][j]));
      const stem = el('line', {x1: x, x2: x, y1: hi, y2: lo, stroke: '#000', 'stroke-width': 2}, g);
      
      
      const capHi = el('line', {x1: x - 5.5, x2: x + 5.5, y1: hi, y2: hi, stroke: '#000', 'stroke-width': 2}, g);
      
      
      const capLo = el('line', {x1: x - 5.5, x2: x + 5.5, y1: lo, y2: lo, stroke: '#000', 'stroke-width': 2}, g);
      
      
      points[i][j].forEach(function (v) {
        const above = v > m;
        const fill = j === 0 ? '#e4e4e4' : (j === 1 ? (above ? '#2b3a8e' : '#dfe2f2') : (above ? '#e3300f' : '#f7e6e0'));
        const p = markerShape(j, x, yOf(v), j === 1 ? 6.5 : 6, fill, '#111', 1.6, g);
        
        
      });
    });
  });
  const base = el('line', {x1: axisX - 7, x2: xEnd, y1: y0, y2: y0, stroke: '#000', 'stroke-width': 3}, g);
  
  
}

// ---------- panel e ----------
function drawLigandPanel(name, axisX, x0, dx, baseStart, xEnd, y0, y100, errShift, labelY, means, sd, points) {
  const g = el('g', {}, plots);
  
  
  const yOf = function (v) { return y0 - v / 100 * (y0 - y100); };
  const xOf = function (i) { return x0 + i * dx; };
  const axis = el('line', {x1: axisX, x2: axisX, y1: y100, y2: y0, stroke: '#111', 'stroke-width': 2.2}, g);
  
  
  ligandTicks.forEach(function (v) {
    drawYTick(g, v, axisX, yOf(v), 7, 4, 19);
  });
  ligandCategories.forEach(function (cat, i) {
    const cx = xOf(i);
    const tick = el('line', {x1: cx, x2: cx, y1: y0, y2: y0 + 6, stroke: '#111', 'stroke-width': 2}, g);
    
    
    const lab = el('text', {x: cx - 1, y: labelY, 'text-anchor': 'middle', style: 'font-size:20.4px'}, g);
    
    
    lab.textContent = cat;
    const ys = points[i].map(yOf);
    const offs = swarmOffsets(ys, 8.8, 16, 3);
    points[i].forEach(function (v, k) {
      const p = markerShape(2, cx + offs[k], ys[k], 11.5, '#3a3a3a', 'none', 0, g);
      
      
    });
  });
  const base = el('line', {x1: baseStart, x2: xEnd, y1: y0, y2: y0, stroke: '#000', 'stroke-width': 2.6}, g);
  
  
  ligandCategories.forEach(function (cat, i) {
    const x = xOf(i) + errShift;
    const hi = yOf(means[i] + sd[i]);
    const lo = yOf(Math.max(0, means[i] - sd[i]));
    const ym = yOf(means[i]);
    const stem = el('line', {x1: x, x2: x, y1: hi, y2: lo, stroke: '#000', 'stroke-width': 1.8}, g);
    
    
    const capHi = el('line', {x1: x - 18, x2: x + 18, y1: hi, y2: hi, stroke: '#000', 'stroke-width': 2}, g);
    
    
    const capLo = el('line', {x1: x - 18, x2: x + 18, y1: lo, y2: lo, stroke: '#000', 'stroke-width': 2}, g);
    
    
    const mean = el('line', {x1: x - 35, x2: x + 35, y1: ym, y2: ym, stroke: '#000', 'stroke-width': 2}, g);
    
    
  });
}

// ---------- render ----------
drawSwarmPanel('cd4-subsets-chart', 81, 106, 50.9, 845, aCd4Means, aCd4Sem, aCd4Points);
drawSwarmPanel('cd8-subsets-chart', 1046, 1071.7, 50.85, 1810, aCd8Means, aCd8Sem, aCd8Points);

drawPie('pie-hd-alpha', pieHdAlpha, 441.6, 596.7, 95.3);
drawPie('pie-cr-alpha', pieCrAlpha, 971.5, 596.7, 95.3);
drawPie('pie-rel-alpha', pieRelAlpha, 1508, 596.7, 95.3);
drawPie('pie-hd-beta', pieHdBeta, 441.6, 818.7, 95.3);
drawPie('pie-cr-beta', pieCrBeta, 970, 818.7, 95.3);
drawPie('pie-rel-beta', pieRelBeta, 1507.5, 818.7, 95.3);

drawBarPanel('c-cd4-bar-chart', 114.5, 150, 70.6, 18, 891, 1301.7, 1104.3, 0.5, 1334, cCd4Means, cCd4Sem, cCd4Points);
drawBarPanel('c-cd8-bar-chart', 114.5, 150, 70.6, 18, 891, 1710, 1511.7, 0.5, 1746, cCd8Means, cCd8Sem, cCd8Points);
drawBarPanel('d-cd4-bar-chart', 1072.3, 1106, 68.2, 17, 1821.7, 1297, 1100, 0, 1334, dCd4Means, dCd4Sem, dCd4Points);
drawBarPanel('d-cd8-bar-chart', 1072.3, 1106, 67.9, 17, 1818.4, 1706.7, 1508, -2, 1742, dCd8Means, dCd8Sem, dCd8Points);

drawLigandPanel('e-left-ligand-chart', 114.5, 150, 70.05, 109, 815.7, 2054.3, 1858.3, 0, 2095, eLeftMeans, eLeftSd, eLeftPoints);
drawLigandPanel('e-right-ligand-chart', 1072.3, 1104, 70.5, 1064, 1773, 2047.3, 1850.7, -10, 2085, eRightMeans, eRightSd, eRightPoints);
</script>
</body>
</html>
